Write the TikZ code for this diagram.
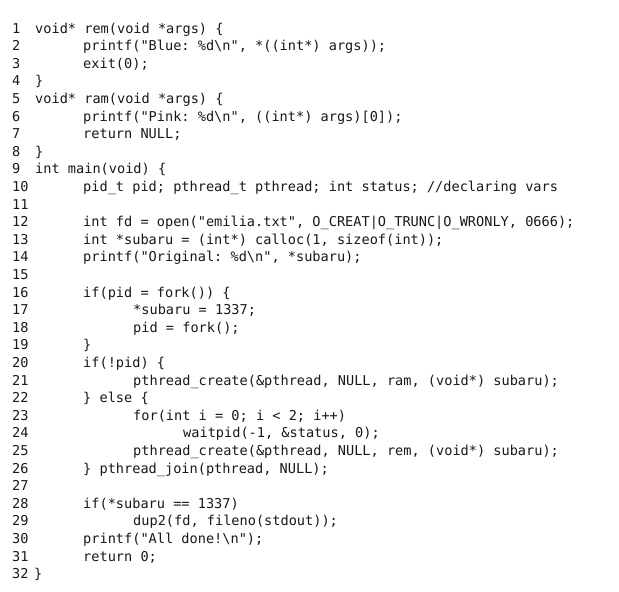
\documentclass[tikz,border=0pt]{standalone}
\usepackage{fontspec}
\setmonofont{DejaVu Sans Mono}
\begin{document}
\begin{tikzpicture}[x=1pt,y=1pt,
  code/.style={anchor=base west,inner sep=0pt,font=\ttfamily\fontsize{13.6}{16}\selectfont,text=black!90}]
\useasboundingbox[fill=white] (0,0) rectangle (619,-592);
\newcommand{\codeln}[3]{%
  \node[code] (n#1) at (12,{-33-(#1-1)*17.6}) {#1};
  \node[code] (l#1) at (#2,{-33-(#1-1)*17.6}) {#3};}
\codeln{1}{35}{void* rem(void *args) \{}
\codeln{2}{83}{printf("Blue: \%d\textbackslash n", *((int*) args));}
\codeln{3}{83}{exit(0);}
\codeln{4}{35}{\}}
\codeln{5}{35}{void* ram(void *args) \{}
\codeln{6}{83}{printf("Pink: \%d\textbackslash n", ((int*) args)[0]);}
\codeln{7}{83}{return NULL;}
\codeln{8}{35}{\}}
\codeln{9}{35}{int main(void) \{}
\codeln{10}{83}{pid\_t pid; pthread\_t pthread; int status; //declaring vars}
\node[code] (n11) at (12,{-33-10*17.6}) {11};
\codeln{12}{83}{int fd = open("emilia.txt", O\_CREAT|O\_TRUNC|O\_WRONLY, 0666);}
\codeln{13}{83}{int *subaru = (int*) calloc(1, sizeof(int));}
\codeln{14}{83}{printf("Original: \%d\textbackslash n", *subaru);}
\node[code] (n15) at (12,{-33-14*17.6}) {15};
\codeln{16}{83}{if(pid = fork()) \{}
\codeln{17}{133}{*subaru = 1337;}
\codeln{18}{133}{pid = fork();}
\codeln{19}{83}{\}}
\codeln{20}{83}{if(!pid) \{}
\codeln{21}{133}{pthread\_create(\&pthread, NULL, ram, (void*) subaru);}
\codeln{22}{83}{\} else \{}
\codeln{23}{133}{for(int i = 0; i < 2; i++)}
\codeln{24}{183}{waitpid(-1, \&status, 0);}
\codeln{25}{133}{pthread\_create(\&pthread, NULL, rem, (void*) subaru);}
\codeln{26}{83}{\} pthread\_join(pthread, NULL);}
\node[code] (n27) at (12,{-33-26*17.6}) {27};
\codeln{28}{83}{if(*subaru == 1337)}
\codeln{29}{133}{dup2(fd, fileno(stdout));}
\codeln{30}{83}{printf("All done!\textbackslash n");}
\codeln{31}{83}{return 0;}
\codeln{32}{34}{\}}
\end{tikzpicture}
\end{document}
